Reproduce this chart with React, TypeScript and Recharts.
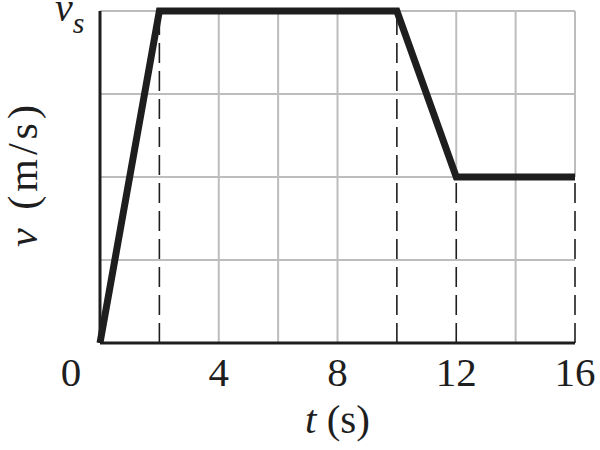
import { LineChart, Line, XAxis, YAxis, CartesianGrid, ReferenceLine, Label } from 'recharts';

const times = [0, 2, 10, 12, 16];
const speeds = [0, 4, 4, 2, 2];
const xTicks = [0, 2, 4, 6, 8, 10, 12, 14, 16];
const xLabeled = [0, 4, 8, 12, 16];
const yTicks = [0, 1, 2, 3, 4];
const gridTimes = [4, 6, 8, 14];
const dropTimes = [2, 10, 12, 16];
const dropSpeeds = [4, 4, 2, 2];
const topSpeed = 4;

const data = times.map((t, i) => ({ t, v: speeds[i] }));

const FONT = 'Liberation Serif';
const INK = '#1e1e1e';
const GRID = '#bdbdbd';

const XTick = ({ x, y, payload }: any) => {
  if (!xLabeled.includes(payload.value)) return <g />;
  const shift = payload.value === 0 ? -29 : 0;
  return (
    <text x={x + shift} y={y + 43} textAnchor="middle" style={{ fontFamily: FONT }} fontSize={41} fill={INK}>
      {payload.value}
    </text>
  );
};

const YTick = ({ x, y, payload }: any) => {
  if (payload.value !== topSpeed) return <g />;
  return (
    <text x={x - 45} y={y + 10} style={{ fontFamily: FONT }} fontSize={40} fontStyle="italic" fill={INK}>
      v
      <tspan fontSize={30} dy={12}>s</tspan>
    </text>
  );
};

const App = () => {
  return (
    <div style={{ position: 'absolute', left: 0, top: 0, width: 600, height: 450, background: '#fff' }}>
      <LineChart width={600} height={450} data={data} margin={{ top: 11, right: 25, left: 0, bottom: 0 }}>
        <CartesianGrid stroke={GRID} strokeWidth={2} verticalValues={gridTimes} horizontalValues={[1, 2, 3, 4]} />
        <XAxis
          type="number"
          dataKey="t"
          domain={[0, 16]}
          ticks={xTicks}
          height={107}
          tickSize={0}
          tickMargin={0}
          tickLine={false}
          tick={<XTick />}
          interval={0}
          axisLine={{ stroke: INK, strokeWidth: 3 }}
        >
          <Label
            content={({ viewBox }: any) => (
              <text x={viewBox.x + viewBox.width / 2} y={viewBox.y + 90} textAnchor="middle" style={{ fontFamily: FONT }} fontSize={41} fill={INK}>
                <tspan fontStyle="italic">t</tspan> (s)
              </text>
            )}
          />
        </XAxis>
        <YAxis
          type="number"
          domain={[0, 4]}
          ticks={yTicks}
          width={100}
          tickSize={0}
          tickMargin={0}
          tickLine={false}
          tick={<YTick />}
          interval={0}
          axisLine={{ stroke: INK, strokeWidth: 3 }}
        >
          <Label
            content={({ viewBox }: any) => {
              const cx = 37;
              const cy = viewBox.y + viewBox.height / 2 - 3;
              return (
                <text x={cx} y={cy} transform={`rotate(-90, ${cx}, ${cy})`} textAnchor="middle" style={{ fontFamily: FONT }} fontSize={42} letterSpacing={4} fill={INK}>
                  <tspan fontStyle="italic">v</tspan> (m/s)
                </text>
              );
            }}
          />
        </YAxis>
        {[12, 16].map((t) => (
          <ReferenceLine key={`g${t}`} segment={[{ x: t, y: 2 }, { x: t, y: 4 }]} stroke={GRID} strokeWidth={2} />
        ))}
        {dropTimes.map((t, i) => (
          <ReferenceLine
            key={`d${t}`}
            segment={[{ x: t, y: 0 }, { x: t, y: dropSpeeds[i] }]}
            stroke={INK}
            strokeWidth={1.6}
            strokeDasharray="20 8"
          />
        ))}
        <Line
          type="linear"
          dataKey="v"
          stroke={INK}
          strokeWidth={7}
          strokeLinejoin="miter"
          dot={false}
          activeDot={false}
          isAnimationActive={false}
        />
      </LineChart>
    </div>
  );
};

export default App;
